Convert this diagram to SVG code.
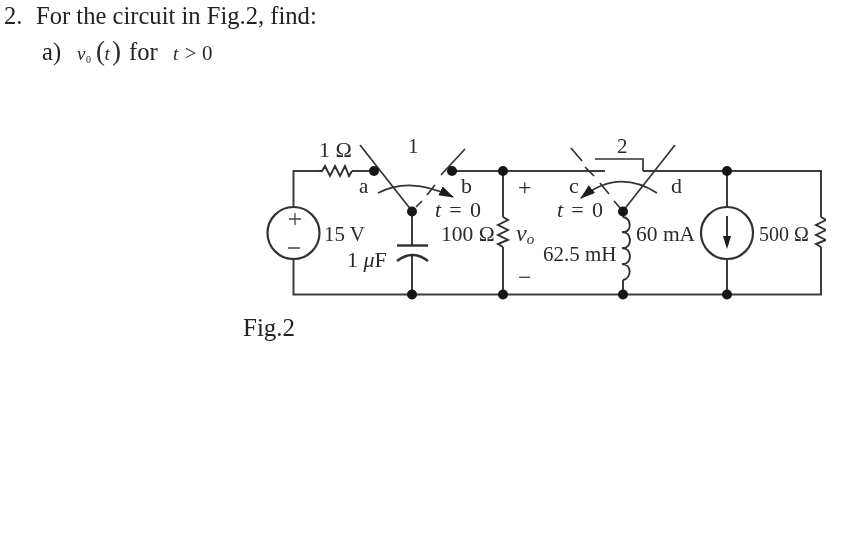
<svg xmlns="http://www.w3.org/2000/svg" width="845" height="539" viewBox="0 0 845 539">
<style>
text{font-family:"Liberation Serif","Times New Roman",serif;fill:#2a2a2a;font-size:21px}
.h{font-size:24.6px;fill:#222}
.i{font-style:italic}
.w{fill:none;stroke:#3c3c3c;stroke-width:2}
.t{fill:none;stroke:#2e2e2e;stroke-width:1.9}
.s{fill:none;stroke:#333;stroke-width:1.7}
.d{fill:#151515}
.o{fill:#fff;stroke:#333;stroke-width:2.2}
</style>
<defs>
<filter id="soft" x="0" y="0" width="100%" height="100%"><feGaussianBlur stdDeviation="0.4"/></filter>
<marker id="ah" markerWidth="15" markerHeight="11" refX="14" refY="5" orient="auto" markerUnits="userSpaceOnUse"><path d="M0 0L15 5L0 10z" fill="#1c1c1c"/></marker>
</defs>
<g filter="url(#soft)">
<g id="heading">
<text class="h" y="24"><tspan x="4">2.</tspan><tspan x="36">For the circuit in Fig.2, find:</tspan></text>
<text class="h" x="42" y="59.500">a)</text>
<text class="i" x="77" y="59.500" style="font-size:19px">v</text>
<text x="86" y="63" style="font-size:10px">0</text>
<text x="96" y="60" style="font-size:27px">(</text>
<text class="i" x="104.500" y="59.500" style="font-size:19px">t</text>
<text x="112" y="60" style="font-size:27px">)</text>
<text class="h" x="129" y="59.500">for</text>
<text class="i" x="173" y="59.500" style="font-size:19px">t</text>
<text x="185" y="59.500" style="font-size:20px">&gt;</text>
<text x="202" y="59.500" style="font-size:21px">0</text>
<text class="h" x="243" y="336" style="font-size:25px">Fig.2</text>
</g>
<g id="connectors">
<path class="w" d="M293.500 207V171H319M352 171H374"/>
<path class="w" d="M293.500 259V294.500H821V247"/>
<path class="w" d="M412 211V245M412 255V294.500"/>
<path class="w" d="M452 171H605"/>
<path class="w" d="M503 171V217M503 247V294.500"/>
<path class="w" d="M623 211V217M623 280V294.500"/>
<path class="w" d="M643 171H821V217"/>
<path class="w" d="M727 171V207M727 259V294.500"/>
<path class="s" d="M595 159H643V171"/>
</g>
<g id="switch-1">
<path class="s" d="M360 145L412 211"/>
<path class="s" d="M465 149L441 175M435 185L427 195M422 201L416 207"/>
<path class="s" d="M378 193Q410 176 453 197" marker-end="url(#ah)"/>
<text x="408" y="153">1</text>
<text x="359" y="193">a</text>
<text x="461" y="193" style="font-size:22px">b</text>
<text x="435" y="217" textLength="46" style="font-size:22px"><tspan class="i">t</tspan> = 0</text>
</g>
<g id="switch-2">
<path class="s" d="M675 145L623 211"/>
<path class="s" d="M571 148L582 161M585 167L594 176M600 183L609 194M614 201L622 210"/>
<path class="s" d="M657 193Q618 168 581 198" marker-end="url(#ah)"/>
<text x="617" y="153">2</text>
<text x="569" y="193" style="font-size:22px">c</text>
<text x="671" y="193" style="font-size:22px">d</text>
<text x="557" y="217" textLength="46" style="font-size:22px"><tspan class="i">t</tspan> = 0</text>
</g>
<g id="source-15v">
<circle class="o" cx="293.500" cy="233" r="26"/>
<path d="M289 219H301M295 213V225M288 248H300" fill="none" stroke="#444" stroke-width="1.300"/>
<text x="324" y="241">15 V</text>
</g>
<g id="r-1">
<path class="t" d="M319 171L322 171L325 166L330 176L335 166L340 176L345 166L349 176L352 171"/>
<text x="319" y="157" style="font-size:22px">1 Ω</text>
</g>
<g id="c-1">
<path d="M397 245.500H428" fill="none" stroke="#2e2e2e" stroke-width="2.400"/>
<path d="M397 261Q412.500 249 428 261" fill="none" stroke="#2e2e2e" stroke-width="2.400"/>
<text x="347" y="267" style="font-size:22px">1 <tspan class="i">μ</tspan>F</text>
</g>
<g id="r-100">
<path class="t" d="M503 217L508 220L498 225L508 230L498 235L508 240L498 244L503 247"/>
<text x="441" y="241" style="font-size:21.500px">100 Ω</text>
<text class="i" x="516" y="241" style="font-size:24px">v<tspan style="font-size:15px" dy="3">o</tspan></text>
<text x="518" y="195" style="font-size:24px">+</text>
<text x="518" y="285" style="font-size:24px">−</text>
</g>
<g id="l-1">
<path class="t" d="M623 217C631 218 632 230 625 232L622 232C632 232 632 246 625 248L622 248C632 248 632 262 625 264L622 264C632 264 632 278 623 280"/>
<text x="543" y="261">62.5 mH</text>
</g>
<g id="source-60ma">
<circle class="o" cx="727" cy="233" r="26"/>
<path class="t" d="M727 216V240"/>
<path d="M723 236H731L727 249z" fill="#1a1a1a"/>
<text x="636" y="241" style="font-size:21.500px">60 mA</text>
</g>
<g id="r-500">
<path class="t" d="M821 217L826 220L816 225L826 230L816 235L826 240L816 244L821 247"/>
<text x="759" y="241" style="font-size:20px">500 Ω</text>
</g>
<g id="junctions">
<circle class="d" cx="374" cy="171" r="5"/>
<circle class="d" cx="452" cy="171" r="5"/>
<circle class="d" cx="503" cy="171" r="5"/>
<circle class="d" cx="727" cy="171" r="5"/>
<circle class="d" cx="412" cy="211.500" r="5"/>
<circle class="d" cx="623" cy="211.500" r="5"/>
<circle class="d" cx="412" cy="294.500" r="5"/>
<circle class="d" cx="503" cy="294.500" r="5"/>
<circle class="d" cx="623" cy="294.500" r="5"/>
<circle class="d" cx="727" cy="294.500" r="5"/>
</g>
</g>
</svg>
